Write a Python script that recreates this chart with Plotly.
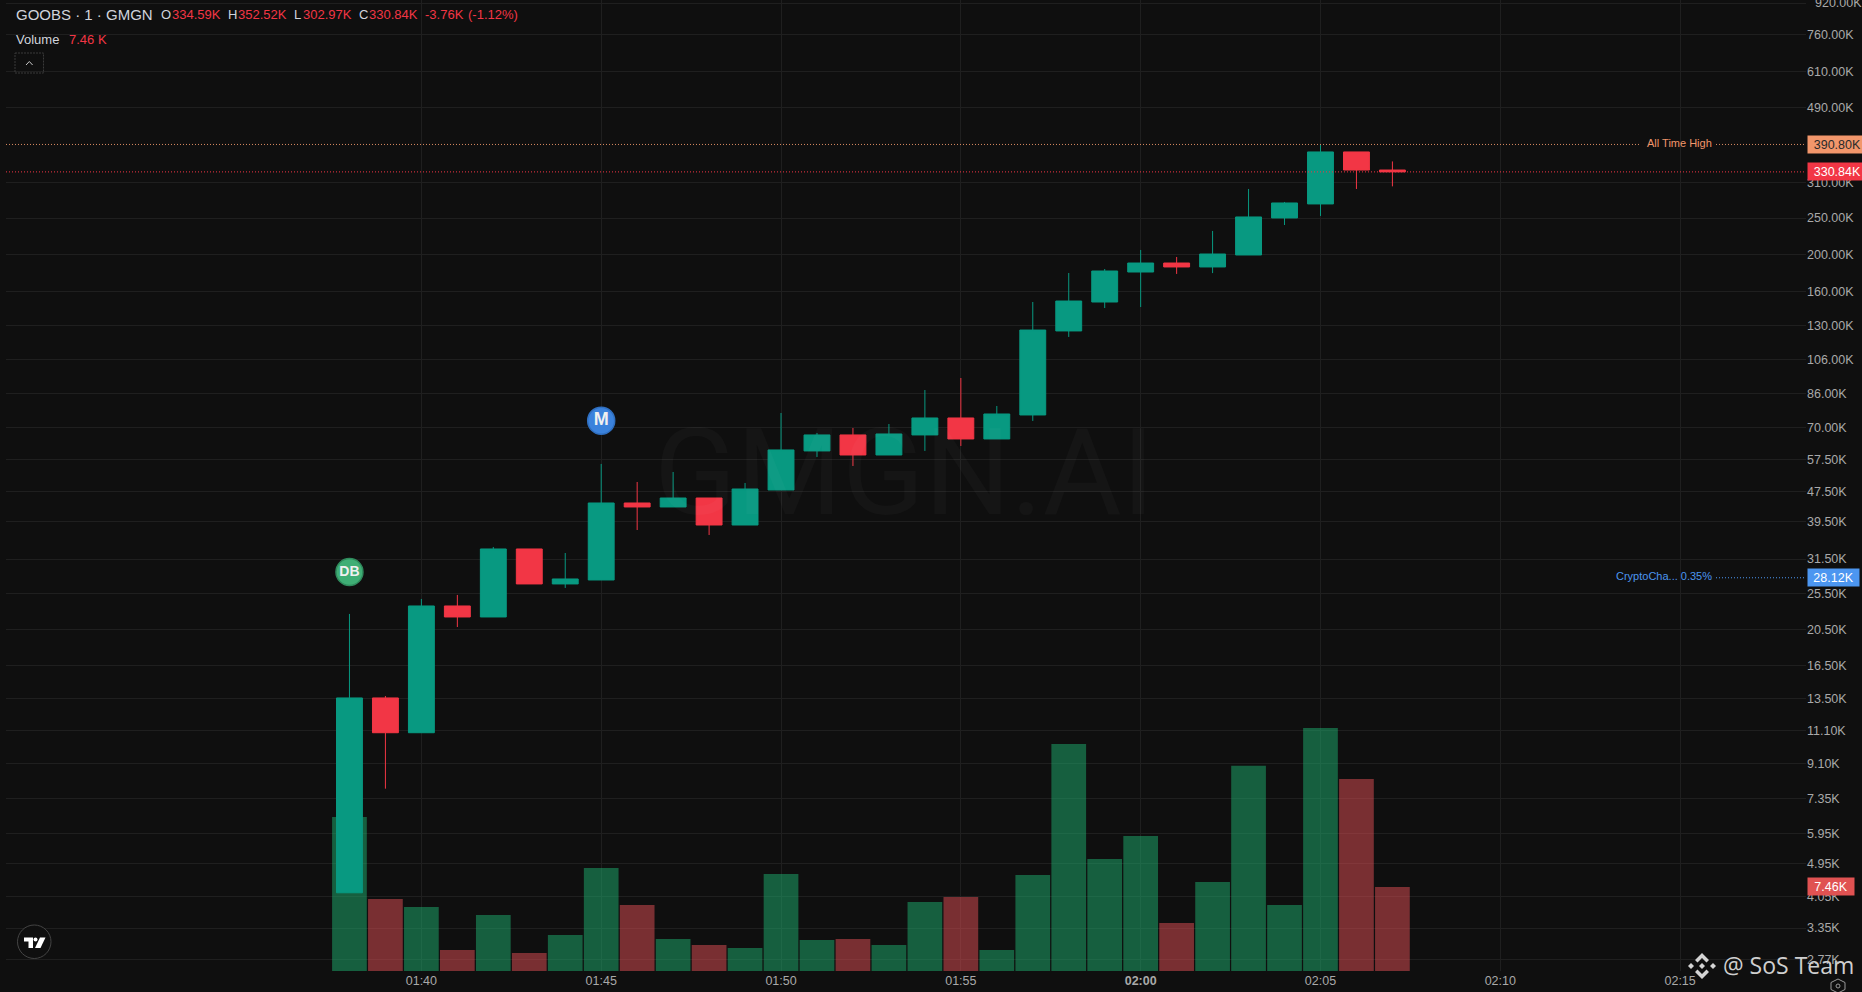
import math
import plotly.graph_objects as go

# one minute candles, values in K
times = ["01:38", "01:39", "01:40", "01:41", "01:42", "01:43", "01:44", "01:45", "01:46", "01:47",
         "01:48", "01:49", "01:50", "01:51", "01:52", "01:53", "01:54", "01:55", "01:56", "01:57",
         "01:58", "01:59", "02:00", "02:01", "02:02", "02:03", "02:04", "02:05", "02:06", "02:07"]
opens = [4.15, 13.55, 10.97, 23.69, 22.16, 33.49, 27.08, 27.74, 44.28, 43.22,
         45.64, 38.74, 47.92, 60.74, 66.94, 59.27, 66.94, 74.21, 65.33, 75.58,
         125.9, 150.1, 180.1, 190.2, 185.7, 199.7, 250.1, 272.3, 373.4, 334.59]
highs = [22.57, 13.71, 24.72, 25.33, 33.90, 33.49, 32.68, 56.13, 50.31, 53.46,
         45.64, 50.01, 76.50, 67.75, 69.84, 71.55, 87.96, 94.61, 79.82, 150.1,
         179.0, 183.4, 205.9, 197.3, 231.1, 298.2, 275.6, 390.8, 373.4, 352.52]
lows = [4.15, 7.81, 10.97, 20.85, 22.16, 27.08, 26.43, 27.74, 37.58, 43.22,
        36.46, 38.74, 47.92, 58.56, 55.44, 59.27, 60.74, 62.61, 65.33, 72.88,
        121.4, 144.7, 145.6, 178.0, 178.9, 199.7, 239.6, 253.1, 298.2, 302.97]
closes = [13.55, 10.97, 23.69, 22.16, 33.49, 27.08, 27.91, 44.28, 43.22, 45.64,
          38.74, 48.21, 61.11, 66.94, 59.27, 67.34, 74.21, 65.33, 76.03, 126.6,
          151.0, 181.2, 190.2, 185.7, 200.9, 251.6, 273.9, 373.4, 334.59, 330.84]
volumes = [13.68, 6.39, 5.68, 1.87, 4.97, 1.60, 3.20, 9.15, 5.86, 2.84,
           2.31, 2.04, 8.61, 2.75, 2.84, 2.31, 6.13, 6.57, 1.87, 8.53,
           20.16, 9.95, 11.99, 4.26, 7.90, 18.21, 5.86, 21.58, 17.05, 7.46]

price_ticks = [920, 760, 610, 490, 310, 250, 200, 160, 130, 106, 86, 70, 57.5, 47.5, 39.5,
               31.5, 25.5, 20.5, 16.5, 13.5, 11.1, 9.1, 7.35, 5.95, 4.95, 4.05, 3.35, 2.77]
time_ticks = ["01:40", "01:45", "01:50", "01:55", "02:00", "02:05", "02:10", "02:15"]

ath = 390.80
last_price = 330.84
holder_price = 28.12
last_volume = 7.46

BG = "#0f0f0f"
GRID = "#1f1f1f"
UP = "#089981"
DOWN = "#f23645"
TEXT = "#a9a9a9"
FONT = "Liberation Sans"
W, H = 1862, 992
L, R, T, B = 6, 56, 0, 21


def stamp(t):
    return "2025-01-01 " + t + ":00"


# pixel helpers for the chrome around the chart
def px(x):
    return (x - L) / (W - L - R)


def py(y):
    return 1 - (y - T) / (H - T - B)


def poly(points):
    d = "M" + " L".join(f"{px(x)},{py(y)}" for x, y in points) + " Z"
    return d


def label(x, y, text, color=TEXT, size=12.5, anchor="left", family=FONT):
    return dict(xref="paper", yref="paper", x=px(x), y=py(y), text=text, showarrow=False,
                xanchor=anchor, yanchor="middle", align="left", borderpad=0,
                font=dict(family=family, size=size, color=color))


def price_tag(y, yref, text, color, textcolor, w, align="right"):
    return dict(xref="paper", yref=yref, x=1, xshift=1, y=y, text=text, showarrow=False,
                xanchor="left", yanchor="middle", align=align, bgcolor=color,
                width=w, height=13, borderpad=2,
                font=dict(family=FONT, size=12.5, color=textcolor))


x = [stamp(t) for t in times]
x_start = "2025-01-01 01:28:27"
x_end = "2025-01-01 02:18:30"

fig = go.Figure()

fig.add_trace(go.Bar(
    x=x, y=volumes, yaxis="y", width=57900,
    marker=dict(color=["rgba(30,176,112,0.5)" if c >= o else "rgba(228,80,86,0.5)" for o, c in zip(opens, closes)],
                line_width=0),
    showlegend=False,
))

fig.add_trace(go.Candlestick(
    x=x, open=opens, high=highs, low=lows, close=closes, yaxis="y2",
    increasing=dict(line=dict(color=UP, width=1), fillcolor=UP),
    decreasing=dict(line=dict(color=DOWN, width=1), fillcolor=DOWN),
    whiskerwidth=0, showlegend=False,
))

# trade markers
fig.add_trace(go.Scatter(
    x=[stamp("01:38"), stamp("01:45")], y=[29.12, 73.0], yaxis="y2", mode="markers+text",
    marker=dict(size=27, color=["#3fae75", "#3b82dc"], line=dict(width=1.5, color=["#2f8a5c", "#2f6fc0"])),
    text=["<b>DB</b>", "<b>M</b>"], textposition="middle center",
    textfont=dict(family=FONT, size=[14, 18], color="#f0f0f0"),
    showlegend=False,
))

annotations = [
    # watermark
    dict(xref="paper", yref="paper", x=px(904), y=py(472.5), text="GMGN.AI", showarrow=False,
         font=dict(family="Roboto", size=121, color="rgba(255,255,255,0.028)")),
    # header
    label(15, 15, "GOOBS · 1 · GMGN", "#d1d4dc", 15),
    label(160, 15, "O", "#d1d4dc", 13), label(171, 15, "334.59K", DOWN, 13),
    label(227, 15, "H", "#d1d4dc", 13), label(237, 15, "352.52K", DOWN, 13),
    label(293, 15, "L", "#d1d4dc", 13), label(302, 15, "302.97K", DOWN, 13),
    label(358, 15, "C", "#d1d4dc", 13), label(368, 15, "330.84K", DOWN, 13),
    label(424, 15, "-3.76K", DOWN, 13), label(467, 15, "(-1.12%)", DOWN, 13),
    label(15, 39, "Volume", "#d1d4dc", 13), label(68, 39, "7.46 K", DOWN, 13),
    # top tick label, plotly drops it because it touches the page edge
    label(1814, 3, "920.00K", TEXT, 12.5),
    # price line captions
    label(1646, 143.5, "All Time High", "#f2966b", 11),
    label(1615, 576, "CryptoCha... 0.35%", "#4c96f0", 11),
    # watermark bottom right
    label(1722, 965, "@ SoS Team", "#cfcfcf", 23, family="Open Sans"),
    # price tags, annotations on a log axis take log10
    price_tag(math.log10(ath), "y2", "390.80K", "#f2966b", "#2a2a2a", 51),
    price_tag(math.log10(last_price), "y2", "330.84K", "#f23645", "#ffffff", 51),
    price_tag(math.log10(holder_price), "y2", "28.12K", "#4c96f0", "#ffffff", 47, "center"),
    price_tag(last_volume, "y", "7.46K", "#e05252", "#ffffff", 42, "center"),
]

shapes = [
    # collapse button
    dict(type="rect", xref="paper", yref="paper", x0=px(15), x1=px(43.5), y0=py(53), y1=py(73),
         line=dict(color="#3a3a3a", width=1, dash="2px,1px")),
    dict(type="path", xref="paper", yref="paper", path="M" + f"{px(26)},{py(65)} L{px(29.3)},{py(61.5)} L{px(32.6)},{py(65)}",
         line=dict(color="#c8c8c8", width=1)),
    # chart provider logo
    dict(type="circle", xref="paper", yref="paper", x0=px(17.5), x1=px(51), y0=py(925), y1=py(958.5),
         fillcolor=BG, line=dict(color="#444444", width=1)),
    dict(type="path", xref="paper", yref="paper", fillcolor="#ffffff", line_width=0,
         path=poly([(24, 937.5), (33, 937.5), (33, 948), (28.5, 948), (28.5, 941.5), (24, 941.5)])),
    dict(type="circle", xref="paper", yref="paper", x0=px(33.5), x1=px(37.5), y0=py(937.5), y1=py(941.5),
         fillcolor="#ffffff", line_width=0),
    dict(type="path", xref="paper", yref="paper", fillcolor="#ffffff", line_width=0,
         path=poly([(40, 937.5), (45.5, 937.5), (40.5, 948), (35, 948)])),
    # settings button
    dict(type="path", xref="paper", yref="paper", line=dict(color="#9a9a9a", width=1),
         path=poly([(1838, 979), (1845, 982.5), (1845, 989.5), (1838, 993), (1831, 989.5), (1831, 982.5)])),
    dict(type="circle", xref="paper", yref="paper", x0=px(1836), x1=px(1840), y0=py(984), y1=py(988),
         line=dict(color="#9a9a9a", width=1)),
    # four diamond logo next to the team name: roof and floor
    dict(type="path", xref="paper", yref="paper", fillcolor="#d4d4d4", line_width=0,
         path=poly([(1702, 953), (1709, 960), (1706.5, 962.5), (1702, 958), (1697.5, 962.5), (1695, 960)])),
    dict(type="path", xref="paper", yref="paper", fillcolor="#d4d4d4", line_width=0,
         path=poly([(1702, 979), (1709, 972), (1706.5, 969.5), (1702, 974), (1697.5, 969.5), (1695, 972)])),
]

for cx, cy, r in [(1691, 966, 3), (1713, 966, 3), (1702, 966, 3)]:
    shapes.append(dict(type="path", xref="paper", yref="paper", fillcolor="#d4d4d4", line_width=0,
                       path=poly([(cx, cy - r), (cx + r, cy), (cx, cy + r), (cx - r, cy)])))

# dotted price lines
for x0, x1, val, col in [(6, 1639, ath, "#d98a62"), (1716, 1805, ath, "#d98a62"),
                         (6, 1805, last_price, "#f23645"), (1716, 1805, holder_price, "#4c96f0")]:
    shapes.append(dict(type="line", xref="paper", yref="y2", x0=px(x0), x1=px(x1), y0=val, y1=val,
                       line=dict(color=col, width=1, dash="1px,2px"), layer="above"))

fig.update_layout(
    width=W, height=H,
    margin=dict(l=L, r=R, t=T, b=B, pad=0),
    paper_bgcolor=BG, plot_bgcolor=BG,
    showlegend=False, dragmode=False,
    boxgap=0, boxgroupgap=0.28,
    font=dict(family=FONT, size=12.5, color=TEXT),
    xaxis=dict(
        type="date", range=[x_start, x_end], rangeslider=dict(visible=False),
        tickmode="array", tickvals=[stamp(t) for t in time_ticks],
        ticktext=["<b>" + t + "</b>" if t == "02:00" else t for t in time_ticks],
        showgrid=True, gridcolor=GRID, gridwidth=1, zeroline=False, showline=False, ticks="",
    ),
    yaxis=dict(range=[0, 86.2], showgrid=False, zeroline=False, showticklabels=False, showline=False, ticks=""),
    yaxis2=dict(
        type="log", overlaying="y", side="right", range=[0.4117, 2.9730],
        tickmode="array", tickvals=price_ticks,
        ticktext=["" if v == 920 else f"{v:.2f}K" for v in price_ticks],
        showgrid=True, gridcolor=GRID, gridwidth=1, zeroline=False, showline=False, ticks="",
        ticklabelposition="outside",
    ),
    annotations=annotations,
    shapes=shapes,
)

# default page margin would shift the chart by 8px
fig.write_html("out.html", config=dict(displayModeBar=False),
               post_script="document.body.style.margin='0';document.body.style.background='#0f0f0f';")
